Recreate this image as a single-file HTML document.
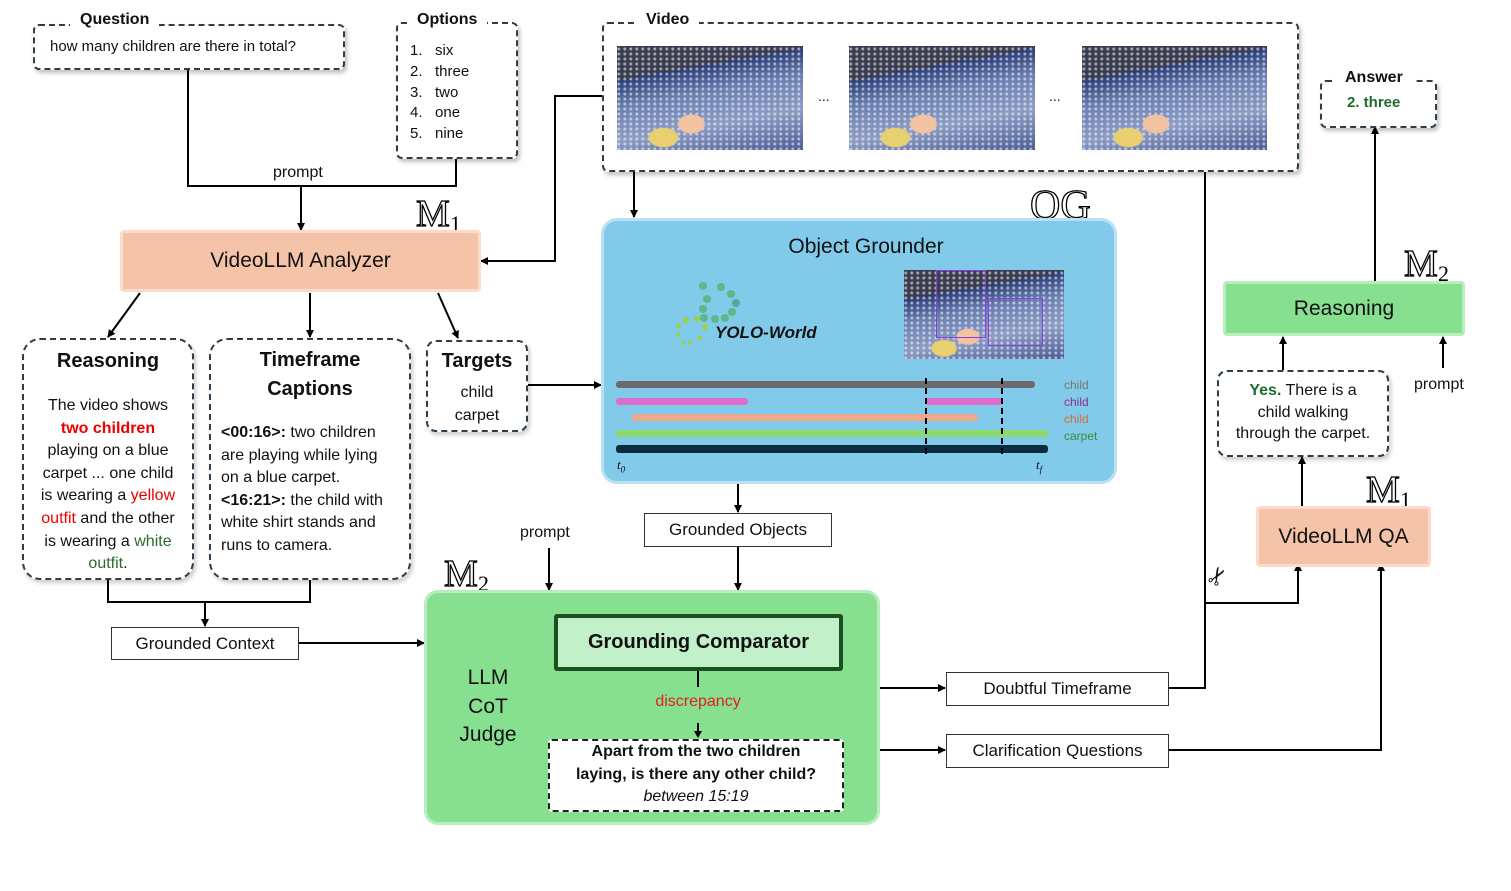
<!DOCTYPE html>
<html><head><meta charset="utf-8"><style>
body{margin:0;width:1511px;height:891px;background:#fff;position:relative;overflow:hidden;font-family:"Liberation Sans",sans-serif;color:#111}
.a{position:absolute}
.c{text-align:center}
.dash{border:2px dashed #2d3e4a;border-radius:6px;box-shadow:2px 3px 4px rgba(0,0,0,.25);background:#fff}
.dd{border:2px dashed #2d3e4a;border-radius:18px;box-shadow:2px 3px 4px rgba(0,0,0,.2);background:#fff;border-style:dashed}
.lbl{background:#fff;font-weight:bold;font-size:16px;padding:0 10px}
.box{border:1.5px solid #333;background:#fff;font-size:17px;text-align:center;box-sizing:border-box}
.M{font-family:"Liberation Serif",serif;font-size:38px;line-height:40px;color:#fff;-webkit-text-stroke:1.3px #000}
.S{font-family:"Liberation Serif",serif;font-size:22px;line-height:24px;color:#000}
.frame{background:
 radial-gradient(ellipse at 40% 75%,#f1c3a0 0 8%,transparent 9%),
 radial-gradient(ellipse at 25% 88%,#e8d070 0 7%,transparent 8%),
 radial-gradient(circle at 30% 60%,rgba(255,255,255,.55) 0 1px,transparent 2px) 0 0/6px 5px,
 linear-gradient(170deg,#3a3c50 0 25%,#2c3f7a 26%,#6a7fb0 45%,#8d9cc4 70%,#4a5d94 100%)}
</style></head><body>

<svg class="a" style="left:0;top:0" width="1511" height="891">
<defs><marker id="ar" markerWidth="8" markerHeight="8" refX="7" refY="4" orient="auto" markerUnits="userSpaceOnUse"><path d="M0,0 L8,4 L0,8 z" fill="#000"/></marker></defs>
<g stroke="#000" stroke-width="2" fill="none">
<polyline points="188,68 188,186 456,186 456,157"/>
<line x1="301" y1="186" x2="301" y2="230" marker-end="url(#ar)"/>
<polyline points="602,96 555,96 555,261 481,261" marker-end="url(#ar)"/>
<line x1="140" y1="293" x2="108" y2="337" marker-end="url(#ar)"/>
<line x1="310" y1="293" x2="310" y2="337" marker-end="url(#ar)"/>
<line x1="438" y1="293" x2="458" y2="338" marker-end="url(#ar)"/>
<line x1="528" y1="385" x2="601" y2="385" marker-end="url(#ar)"/>
<polyline points="108,580 108,602 310,602 310,580"/>
<line x1="205" y1="602" x2="205" y2="626" marker-end="url(#ar)"/>
<line x1="299" y1="643" x2="424" y2="643" marker-end="url(#ar)"/>
<line x1="634" y1="170" x2="634" y2="217" marker-end="url(#ar)"/>
<line x1="738" y1="484" x2="738" y2="512" marker-end="url(#ar)"/>
<line x1="738" y1="547" x2="738" y2="590" marker-end="url(#ar)"/>
<line x1="549" y1="548" x2="549" y2="590" marker-end="url(#ar)"/>
<line x1="880" y1="688" x2="945" y2="688" marker-end="url(#ar)"/>
<line x1="880" y1="750" x2="945" y2="750" marker-end="url(#ar)"/>
<polyline points="1169,688 1205,688 1205,170"/>
<polyline points="1205,603 1298,603 1298,564" marker-end="url(#ar)"/>
<polyline points="1169,750 1381,750 1381,564" marker-end="url(#ar)"/>
<line x1="1302" y1="506" x2="1302" y2="457" marker-end="url(#ar)"/>
<line x1="1283" y1="370" x2="1283" y2="337" marker-end="url(#ar)"/>
<line x1="1443" y1="368" x2="1443" y2="337" marker-end="url(#ar)"/>
<line x1="1375" y1="281" x2="1375" y2="127" marker-end="url(#ar)"/>
</g>
</svg>

<!-- Question -->
<div class="a dash" style="left:33px;top:24px;width:308px;height:42px"></div>
<div class="a lbl" style="left:70px;top:11px">Question</div>
<div class="a" style="left:50px;top:38px;font-size:15px">how many children are there in total?</div>
<!-- Options -->
<div class="a dash" style="left:396px;top:22px;width:118px;height:133px"></div>
<div class="a lbl" style="left:407px;top:11px">Options</div>
<div class="a" style="left:410px;top:41px;font-size:15px;line-height:20.8px">1.&nbsp;&nbsp;&nbsp;six<br>2.&nbsp;&nbsp;&nbsp;three<br>3.&nbsp;&nbsp;&nbsp;two<br>4.&nbsp;&nbsp;&nbsp;one<br>5.&nbsp;&nbsp;&nbsp;nine</div>
<div class="a" style="left:273px;top:164px;font-size:16px">prompt</div>
<!-- Video -->
<div class="a dash" style="left:602px;top:22px;width:693px;height:146px"></div>
<div class="a lbl" style="left:636px;top:11px">Video</div>
<div class="a frame" style="left:617px;top:46px;width:186px;height:104px"></div>
<div class="a frame" style="left:849px;top:46px;width:186px;height:104px"></div>
<div class="a frame" style="left:1082px;top:46px;width:185px;height:104px"></div>
<div class="a" style="left:818px;top:88px;font-size:14px">...</div>
<div class="a" style="left:1049px;top:88px;font-size:14px">...</div>
<!-- Answer -->
<div class="a dash" style="left:1320px;top:80px;width:113px;height:44px"></div>
<div class="a lbl" style="left:1335px;top:69px">Answer</div>
<div class="a" style="left:1347px;top:94px;font-size:15px;font-weight:bold;color:#1f6b2a">2. three</div>

<!-- Analyzer -->
<div class="a M" style="left:416px;top:194px">M</div><div class="a S" style="left:450px;top:212px">1</div>
<div class="a c" style="left:120px;top:230px;width:355px;height:56px;background:#f5c4a8;border:3px solid #fbdccb;border-radius:4px;font-size:21px;line-height:56px">VideoLLM Analyzer</div>

<!-- Reasoning box -->
<div class="a dd" style="left:22px;top:338px;width:168px;height:238px"></div>
<div class="a c" style="left:22px;top:350px;width:172px;font-size:20px;font-weight:bold">Reasoning</div>
<div class="a c" style="left:22px;top:395px;width:172px;font-size:16px;line-height:22.6px">The video shows<br><b style="color:#e00">two children</b><br>playing on a blue<br>carpet ... one child<br>is wearing a <span style="color:#e00">yellow</span><br><span style="color:#e00">outfit</span> and the other<br>is wearing a <span style="color:#2a6a2a">white</span><br><span style="color:#2a6a2a">outfit</span>.</div>
<!-- Timeframe -->
<div class="a dd" style="left:209px;top:338px;width:198px;height:238px"></div>
<div class="a c" style="left:209px;top:346px;width:202px;font-size:20px;font-weight:bold;line-height:29px">Timeframe<br>Captions</div>
<div class="a" style="left:221px;top:422px;font-size:16px;line-height:22.6px"><b>&lt;00:16&gt;:</b> two children<br>are playing while lying<br>on a blue carpet.<br><b>&lt;16:21&gt;:</b> the child with<br>white shirt stands and<br>runs to camera.</div>
<!-- Targets -->
<div class="a dd" style="left:426px;top:340px;width:98px;height:88px;border-radius:10px"></div>
<div class="a c" style="left:426px;top:350px;width:102px;font-size:20px;font-weight:bold">Targets</div>
<div class="a c" style="left:426px;top:381px;width:102px;font-size:16px;line-height:23px">child<br>carpet</div>

<div class="a box" style="left:111px;top:627px;width:188px;height:33px;line-height:31px">Grounded Context</div>

<!-- OG -->
<div class="a" style="left:1030px;top:184px;font-family:'Liberation Serif',serif;font-size:42px;line-height:44px;color:#fff;-webkit-text-stroke:1.3px #000">OG</div>
<div class="a" style="left:601px;top:218px;width:510px;height:260px;background:#82caea;border:3px solid #b8e1f3;border-radius:16px"></div>
<div class="a c" style="left:601px;top:235px;width:530px;font-size:21px">Object Grounder</div>
<svg class="a" style="left:670px;top:280px" width="80" height="70">
<g fill="#5cb88a"><circle cx="33" cy="6" r="4"/><circle cx="51" cy="7" r="4"/><circle cx="61" cy="14" r="4"/><circle cx="66" cy="23" r="4" fill="#4aae9a"/><circle cx="62" cy="32" r="4"/><circle cx="55" cy="38" r="4"/><circle cx="45" cy="39" r="4"/><circle cx="34" cy="38" r="4"/><circle cx="33" cy="29" r="4"/><circle cx="37" cy="19" r="4"/></g>
<g fill="#9ccf4a"><circle cx="27" cy="39" r="3"/><circle cx="16" cy="40" r="3"/><circle cx="9" cy="46" r="2.5"/><circle cx="8" cy="55" r="2"/><circle cx="13" cy="63" r="2"/><circle cx="20" cy="63" r="2"/><circle cx="30" cy="58" r="2.5"/><circle cx="35" cy="47" r="3"/></g>
</svg>
<div class="a" style="left:715px;top:323px;font-size:17px;font-weight:bold;font-style:italic">YOLO-World</div>
<div class="a frame" style="left:904px;top:270px;width:160px;height:89px"></div>
<div class="a" style="left:936px;top:270px;width:48px;height:66px;border:1px solid #8a3ce0"></div>
<div class="a" style="left:988px;top:298px;width:53px;height:46px;border:1px solid #8a3ce0"></div>
<div class="a" style="left:616px;top:381px;width:419px;height:7px;background:#6b6b6b;border-radius:3px"></div>
<div class="a" style="left:616px;top:398px;width:132px;height:7px;background:#dd6ecb;border-radius:3px"></div>
<div class="a" style="left:926px;top:398px;width:76px;height:7px;background:#dd6ecb;border-radius:3px"></div>
<div class="a" style="left:632px;top:414px;width:346px;height:7px;background:#eea98a;border-radius:3px"></div>
<div class="a" style="left:616px;top:430px;width:432px;height:7px;background:#8ed870;border-radius:3px"></div>
<div class="a" style="left:616px;top:445px;width:432px;height:8px;background:#0e2c3f;border-radius:3px"></div>
<div class="a" style="left:925px;top:378px;height:76px;border-left:2px dashed #000"></div>
<div class="a" style="left:1001px;top:378px;height:76px;border-left:2px dashed #000"></div>
<div class="a" style="left:1064px;top:377px;font-size:12px;line-height:17px"><span style="color:#777">child</span><br><span style="color:#8b2d8b">child</span><br><span style="color:#d2703a">child</span><br><span style="color:#3c8a3c">carpet</span></div>
<div class="a" style="left:617px;top:457px;font-family:'Liberation Serif',serif;font-style:italic;font-size:13px">t<sub style="font-size:9px">0</sub></div>
<div class="a" style="left:1036px;top:457px;font-family:'Liberation Serif',serif;font-style:italic;font-size:13px">t<sub style="font-size:9px">f</sub></div>

<div class="a box" style="left:644px;top:513px;width:188px;height:34px;line-height:32px">Grounded Objects</div>
<div class="a" style="left:520px;top:524px;font-size:16px">prompt</div>

<!-- Judge -->
<div class="a M" style="left:444px;top:554px">M</div><div class="a S" style="left:478px;top:572px">2</div>
<div class="a" style="left:424px;top:590px;width:450px;height:229px;background:#86e08f;border:3px solid #b8edbd;border-radius:14px"></div>
<div class="a c" style="left:424px;top:664px;width:128px;font-size:21px;line-height:28.5px">LLM<br>CoT<br>Judge</div>
<div class="a c" style="left:554px;top:614px;width:289px;height:57px;box-sizing:border-box;background:#c2f0c8;border:4px solid #1c4f22;border-radius:3px;font-size:20px;font-weight:bold;line-height:49px">Grounding Comparator</div>
<svg class="a" style="left:690px;top:671px" width="20" height="70"><line x1="8" y1="0" x2="8" y2="16" stroke="#000" stroke-width="2"/><line x1="8" y1="52" x2="8" y2="62" stroke="#000" stroke-width="2"/><path d="M4,60 L12,60 L8,67z" fill="#000"/></svg>
<div class="a c" style="left:600px;top:693px;width:196px;font-size:16px;color:#e02020">discrepancy</div>
<div class="a" style="left:548px;top:739px;width:292px;height:69px;background:#fff;border:2px dashed #222;border-radius:4px"></div>
<div class="a c" style="left:548px;top:741px;width:296px;font-size:16px;line-height:22.6px"><b>Apart from the two children<br>laying, is there any other child?</b><br><i>between 15:19</i></div>

<div class="a box" style="left:946px;top:672px;width:223px;height:34px;line-height:32px">Doubtful Timeframe</div>
<div class="a box" style="left:946px;top:734px;width:223px;height:34px;line-height:32px">Clarification Questions</div>
<div class="a" style="left:1208px;top:562px;font-size:24px;transform:rotate(-60deg)">✂</div>

<!-- right column -->
<div class="a M" style="left:1404px;top:244px">M</div><div class="a S" style="left:1438px;top:262px">2</div>
<div class="a c" style="left:1223px;top:281px;width:236px;height:49px;background:#86e08f;border:3px solid #b8edbd;border-radius:4px;font-size:21px;line-height:49px">Reasoning</div>
<div class="a dd" style="left:1217px;top:370px;width:168px;height:83px;border-radius:10px"></div>
<div class="a c" style="left:1217px;top:380px;width:172px;font-size:16px;line-height:21.5px"><b style="color:#1f6b2a">Yes.</b> There is a<br>child walking<br>through the carpet.</div>
<div class="a" style="left:1414px;top:376px;font-size:16px">prompt</div>
<div class="a M" style="left:1366px;top:470px">M</div><div class="a S" style="left:1400px;top:488px">1</div>
<div class="a c" style="left:1256px;top:506px;width:169px;height:55px;background:#f5c4a8;border:3px solid #fbdccb;border-radius:4px;font-size:21px;line-height:55px">VideoLLM QA</div>
</body></html>
